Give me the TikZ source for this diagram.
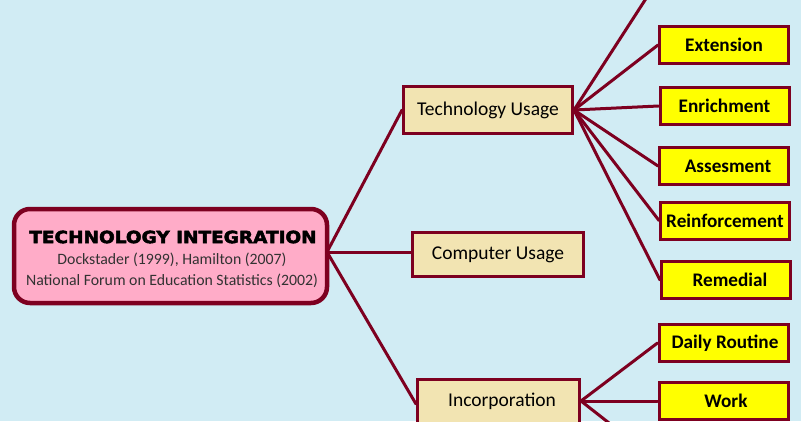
\documentclass[tikz,border=0pt]{standalone}
\usepackage{fontspec}
\setmainfont{Carlito}
\newfontfamily\titlefont{DejaVu Sans}[FakeStretch=1.1,BoldFeatures={FakeBold=3}]
\definecolor{bg}{RGB}{209,236,244}
\definecolor{maroon}{RGB}{125,0,32}
\definecolor{rootfill}{RGB}{255,172,200}
\definecolor{wheatfill}{RGB}{242,228,178}
\definecolor{yel}{RGB}{255,255,0}
\definecolor{subgray}{RGB}{50,50,50}
\tikzset{
  rootbox/.style={draw=maroon,line width=4.5pt,fill=rootfill,rounded corners=16pt,minimum width=313pt,minimum height=94pt,inner sep=0pt},
  midbox/.style={draw=maroon,line width=3pt,fill=wheatfill,inner sep=0pt,font=\fontsize{19.5}{21}\selectfont},
  leafbox/.style={draw=maroon,line width=3pt,fill=yel,inner sep=0pt,minimum width=129pt,minimum height=37pt,font=\bfseries\fontsize{19.2}{21}\selectfont},
  conn/.style={draw=maroon,line width=3pt,line cap=round}
}
\begin{document}
\begin{tikzpicture}[x=1pt,y=-1pt]
\useasboundingbox (0,0) rectangle (801,421);
\clip (0,0) rectangle (801,421);
\fill[bg] (0,0) rectangle (801,421);

% nodes
\node[rootbox] (root) at (170.5,256) {};
\node[inner sep=0pt,font=\titlefont\bfseries\fontsize{16.8}{18}\selectfont] (roottitle) at (173,237) {TECHNOLOGY INTEGRATION};
\node[inner sep=0pt,text=subgray,font=\fontsize{15.8}{17}\selectfont] (rootsub1) at (172,260) {Dockstader (1999), Hamilton (2007)};
\node[inner sep=0pt,text=subgray,font=\fontsize{15.8}{17}\selectfont] (rootsub2) at (172,281) {National Forum on Education Statistics (2002)};
\coordinate (rootport) at (327,252);

\node[midbox,minimum width=169pt,minimum height=47pt] (tu) at (488,110) {Technology Usage};
\node[midbox,minimum width=171pt,minimum height=44pt] (cu) at (498,254.5) {Computer Usage};
\node[midbox,minimum width=162pt,minimum height=50pt] (inc) at (498.5,404) {};
\node[inner sep=0pt,font=\fontsize{19.5}{21}\selectfont] (inctext) at (502,401) {Incorporation};

\node[leafbox] (top) at (724,-20) {};
\node[leafbox] (ext) at (724,45) {Extension};
\node[leafbox] (enr) at (724.5,106) {Enrichment};
\node[leafbox] (ass) at (724,166) {\hspace*{8pt}Assesment};
\node[leafbox] (rei) at (725,220.5) {Reinforcement};
\node[leafbox] (rem) at (726,280) {\hspace*{8pt}Remedial};
\node[leafbox] (dai) at (723.5,343) {\hspace*{3pt}Daily Routine};
\node[leafbox] (wor) at (723.5,401) {\hspace*{5pt}Work};
\node[leafbox] (thi) at (723.5,461) {};

% connectors
\draw[conn] (rootport) -- (tu.west);
\draw[conn] (rootport) -- (cu.west |- rootport);
\draw[conn] (rootport) -- (inc.west);
\foreach \t in {top,ext,enr,ass,rei,rem}{
  \draw[conn] (tu.east) -- (\t.west);
}
\foreach \t in {dai,wor,thi}{
  \draw[conn] ([yshift=3pt]inc.east) -- (\t.west);
}
\end{tikzpicture}
\end{document}
